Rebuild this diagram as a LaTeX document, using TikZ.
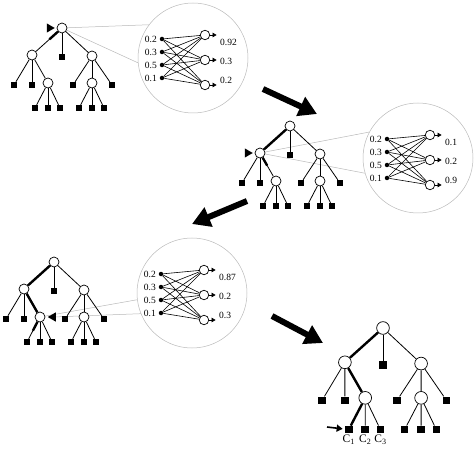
\documentclass[tikz,border=0pt]{standalone}
\usepackage{fontspec}
\setmainfont{Liberation Serif}
\usetikzlibrary{arrows.meta, positioning, shapes.geometric, calc, backgrounds}

% one game tree: #1 name prefix, #2 root position, #3 scale
\newcommand{\gametree}[3]{%
  \begin{scope}[shift={#2}, scale=#3, every node/.append style={transform shape}]
    \node[vtx]  (#1r)   at (0,0)    {};
    \node[vtx]  (#1a)   at (-30,27) {};
    \node[leaf] (#1b)   at (0,29)   {};
    \node[vtx]  (#1c)   at (30,28)  {};
    \node[leaf] (#1a1)  at (-48,57) {};
    \node[leaf] (#1a2)  at (-30,57) {};
    \node[vtx]  (#1a3)  at (-14,55) {};
    \node[leaf] (#1a31) at (-27,80) {};
    \node[leaf] (#1a32) at (-14,80) {};
    \node[leaf] (#1a33) at (-2,80)  {};
    \node[leaf] (#1c1)  at (11,57)  {};
    \node[vtx]  (#1c2)  at (30,55)  {};
    \node[leaf] (#1c3)  at (50,57)  {};
    \node[leaf] (#1c21) at (17,80)  {};
    \node[leaf] (#1c22) at (30,80)  {};
    \node[leaf] (#1c23) at (42,80)  {};
    \foreach \p/\q in {r/a, r/b, r/c, a/a1, a/a2, a/a3, a3/a31, a3/a32, a3/a33,
                       c/c1, c/c2, c/c3, c2/c21, c2/c22, c2/c23}
      \draw[edge] (#1\p) -- (#1\q);
  \end{scope}}

% zoom lens with the small net: #1 name, #2 centre, #3 inputs, #4 outputs
\newcommand{\lensnet}[4]{%
  \node[lens] (#1) at #2 {};
  \begin{scope}[shift={#2}]
    \foreach \v [count=\i] in {#3} {
      \node[inp] (#1in\i) at (-31,{13*\i-32}) {};
      \node[val, left=2.5pt of #1in\i] (#1v\i) {\v};
    }
    \foreach \v [count=\j] in {#4} {
      \node[outn] (#1out\j) at (12,{25*\j-48}) {};
      \coordinate (#1tip\j) at ([xshift=6.5pt]#1out\j.east);
      \node[val, anchor=west] (#1w\j) at ([xshift=15pt, yshift={(6*\j-13)*1pt}]#1out\j) {\v};
    }
  \end{scope}
  \foreach \i in {1,...,4}
    \foreach \j in {1,2,3}
      \draw[wire] (#1in\i) -- (#1out\j);
  \foreach \j in {1,2,3}
    \draw[outarrow] (#1out\j) -- (#1tip\j);
}

\begin{document}
\begin{tikzpicture}[
    x=1pt, y=-1pt,
    vtx/.style={circle, draw, fill=white, minimum size=10pt, inner sep=0pt, line width=0.7pt},
    leaf/.style={rectangle, fill=black, minimum size=6pt, inner sep=0pt},
    edge/.style={line width=0.8pt},
    walk/.style={line width=2.4pt},
    lens/.style={circle, draw=gray!55, minimum size=110pt, inner sep=0pt, line width=0.5pt},
    guide/.style={gray!55, line width=0.5pt},
    inp/.style={circle, fill=black, minimum size=4.5pt, inner sep=0pt},
    outn/.style={circle, draw, fill=white, minimum size=9.5pt, inner sep=0pt, line width=0.7pt},
    wire/.style={line width=0.6pt},
    outarrow/.style={-{Triangle[length=4pt, width=4.5pt]}, line width=0.7pt},
    val/.style={font=\fontsize{9.5}{11}\selectfont, inner sep=0pt},
    clbl/.style={font=\fontsize{11.5}{13}\selectfont, inner sep=0pt},
    marker/.style={isosceles triangle, isosceles triangle apex angle=60, fill=black,
                   minimum height=8pt, inner sep=0pt},
    bigarrow/.style={line width=6pt, -{Triangle[length=18pt, width=20pt]}}
]
  \useasboundingbox (0,0) rectangle (474,449);

  % the four stages of the search
  \gametree{t1}{(62,28)}{1}
  \gametree{t2}{(290,126)}{1}
  \gametree{t3}{(54,262)}{1}
  \gametree{t4}{(383,328)}{1.27}

  % the lenses
  \lensnet{l1}{(193,58)}{0.2,0.3,0.5,0.1}{0.92,0.3,0.2}
  \lensnet{l2}{(418,158)}{0.2,0.3,0.5,0.1}{0.1,0.2,0.9}
  \lensnet{l3}{(192,293)}{0.2,0.3,0.5,0.1}{0.87,0.2,0.3}

  % markers on the current node
  \node[marker, left=1.5pt of t1r] (m1) {};
  \node[marker, left=1.5pt of t2a] (m2) {};
  \node[marker, shape border rotate=180, right=2pt of t3a3] (m3) {};
  \coordinate (m4) at (327,427);
  \draw[-{Triangle[length=6pt, width=7pt]}, line width=1.6pt, shorten >=2pt] (m4) -- (t4a31);
  \node[clbl, below=1.5pt of t4a31] (c1) {C\textsubscript{1}};
  \node[clbl, below=1.5pt of t4a32] (c2) {C\textsubscript{2}};
  \node[clbl, below=1.5pt of t4a33] (c3) {C\textsubscript{3}};

  % path taken so far
  \coordinate (h1) at ($(t1r)!0.42!(t1a)$);
  \draw[walk] (t1r) -- (h1);
  \draw[walk] (t2r) -- (t2a);
  \coordinate (h2) at ($(t2a)!0.45!(t2a3)$);
  \draw[walk] (t2a) -- (h2);
  \draw[walk] (t3r) -- (t3a);
  \draw[walk] (t3a) -- (t3a3);
  \coordinate (h3) at ($(t3a3)!0.55!(t3a31)$);
  \draw[walk] (t3a3) -- (h3);
  \draw[walk] (t4r) -- (t4a);
  \draw[walk] (t4a) -- (t4a3);
  \draw[walk] (t4a3) -- (t4a31);

  % lines out to the lenses
  \begin{scope}[on background layer]
    \draw[guide] (t1r) -- (l1.143);
    \draw[guide] (t1r) -- (l1.185);
    \draw[guide] (t2a) -- (l2.152);
    \draw[guide] (t2a) -- (l2.196);
    \draw[guide] (t3a3) -- (l3.187);
    \draw[guide] (m3) -- (l3.202);
  \end{scope}

  % big arrows between stages
  \coordinate (a1s) at (263,89);  \coordinate (a1e) at (317,114);
  \coordinate (a2s) at (247,201); \coordinate (a2e) at (192,224);
  \coordinate (a3s) at (272,316); \coordinate (a3e) at (323,343);
  \draw[bigarrow] (a1s) -- (a1e);
  \draw[bigarrow] (a2s) -- (a2e);
  \draw[bigarrow] (a3s) -- (a3e);
\end{tikzpicture}
\end{document}
